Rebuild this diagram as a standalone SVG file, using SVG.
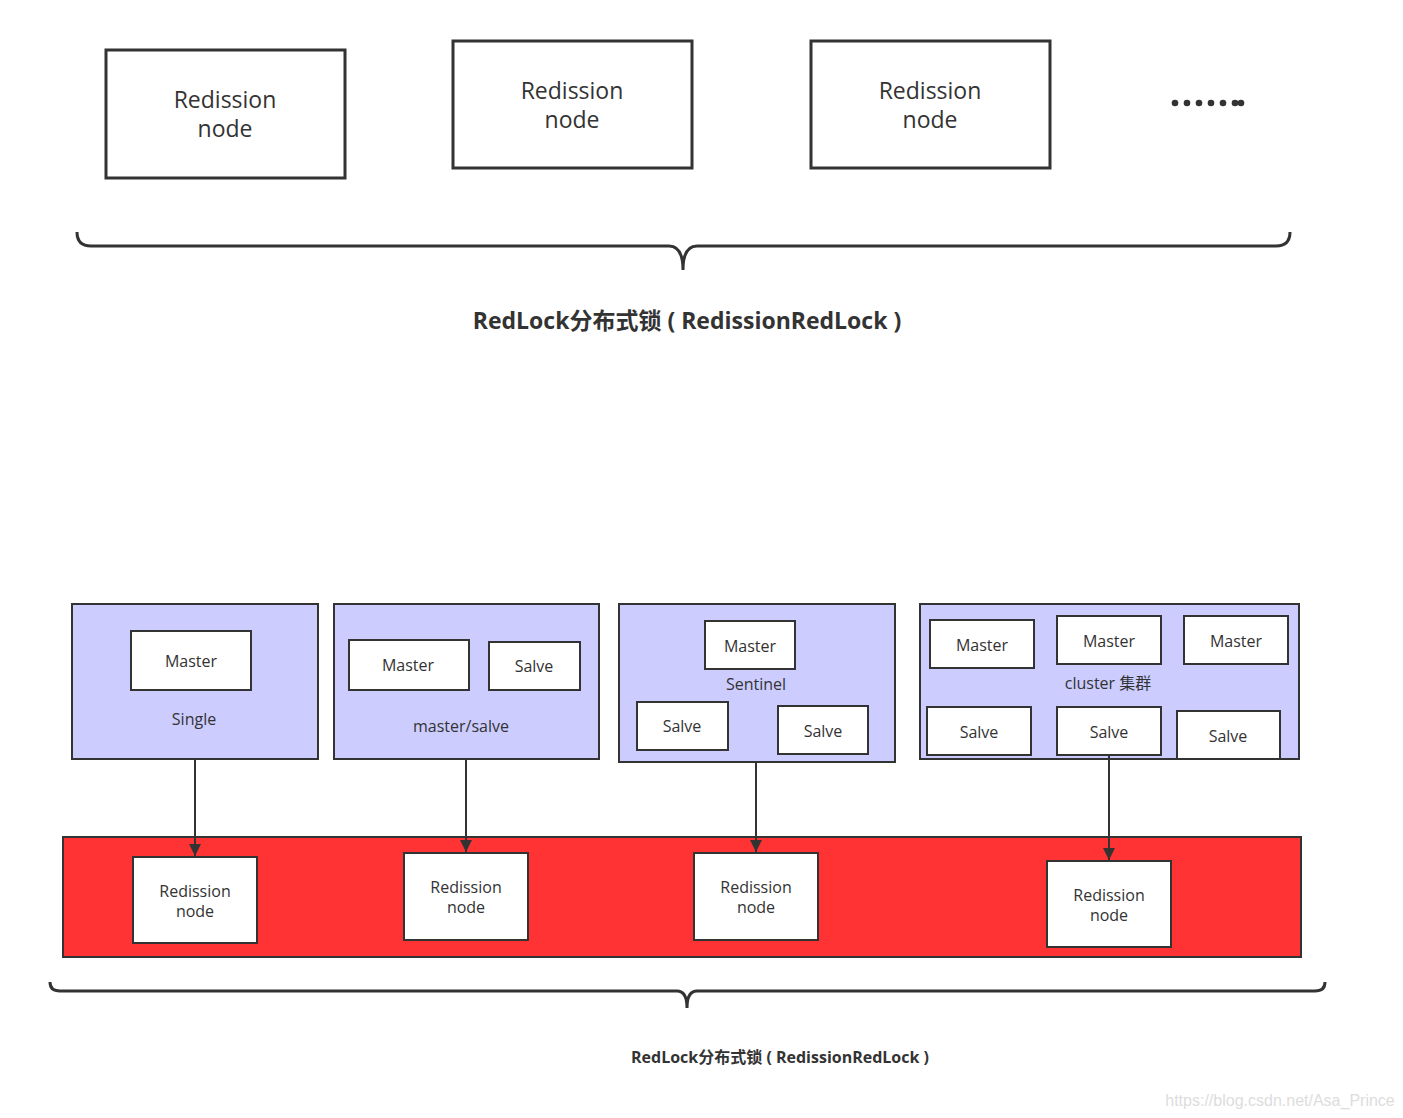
<svg xmlns="http://www.w3.org/2000/svg" width="1403" height="1118" viewBox="0 0 1403 1118">
<style>
text{font-family:"Open Sans","Noto Sans","Noto Sans CJK SC",sans-serif;fill:#333;text-anchor:middle}
.big{fill:#fff;stroke:#333;stroke-width:3}
.big-t{font-size:23px}
.panel{fill:#ccccff;stroke:#333;stroke-width:2}
.box{fill:#fff;stroke:#333;stroke-width:2}
.s{font-size:16px}
.rn{font-size:16px}
.conn line{stroke:#333;stroke-width:2}
.brace{fill:none;stroke:#333;stroke-width:3}
.title{font-weight:bold}
</style>
<defs><marker id="ah" markerWidth="10" markerHeight="12" refX="5" refY="12" orient="auto" markerUnits="userSpaceOnUse" viewBox="0 0 10 12"><path d="M0,0 L10,0 L5,12 Z" fill="#333" transform="rotate(-90 5 6)"/></marker>
<marker id="ar" markerWidth="12" markerHeight="14" refX="12" refY="6" orient="auto" markerUnits="userSpaceOnUse"><path d="M0,0 L12,6 L0,12 Z" fill="#333"/></marker></defs>
<rect width="1403" height="1118" fill="#fff"/>
<g id="top1"><rect class="big" x="106" y="50" width="239" height="128"/><text class="big-t" x="225" y="108">Redission</text><text class="big-t" x="225" y="137">node</text></g>
<g id="top2"><rect class="big" x="453" y="41" width="239" height="127"/><text class="big-t" x="572" y="99">Redission</text><text class="big-t" x="572" y="128">node</text></g>
<g id="top3"><rect class="big" x="811" y="41" width="239" height="127"/><text class="big-t" x="930" y="99">Redission</text><text class="big-t" x="930" y="128">node</text></g>
<g id="dots" fill="#333"><circle cx="1175" cy="103" r="3.3"/><circle cx="1187" cy="103" r="3.3"/><circle cx="1199" cy="103" r="3.3"/><circle cx="1211" cy="103" r="3.3"/><circle cx="1223" cy="103" r="3.3"/><circle cx="1235" cy="103" r="3.3"/><circle cx="1241" cy="103" r="3.3"/></g>
<path class="brace" d="M77,232 Q77,246 91,246 L669,246 Q683,246 683,270 Q683,246 697,246 L1276,246 Q1290,246 1290,232"/>
<text class="title" x="687" y="329" font-size="23">RedLock分布式锁 ( RedissionRedLock )</text>

<g id="single"><rect class="panel" x="72" y="604" width="246" height="155"/><rect class="box" x="131" y="631" width="120" height="59"/><text class="s" x="191" y="667">Master</text><text class="s" x="194" y="725">Single</text></g>
<g id="ms"><rect class="panel" x="334" y="604" width="265" height="155"/><rect class="box" x="349" y="640" width="120" height="50"/><text class="s" x="408" y="671">Master</text><rect class="box" x="489" y="642" width="91" height="48"/><text class="s" x="534" y="672">Salve</text><text class="s" x="461" y="732">master/salve</text></g>
<g id="sentinel"><rect class="panel" x="619" y="604" width="276" height="158"/><rect class="box" x="705" y="621" width="90" height="48"/><text class="s" x="750" y="652">Master</text><text class="s" x="756" y="690">Sentinel</text><rect class="box" x="637" y="702" width="91" height="48"/><text class="s" x="682" y="732">Salve</text><rect class="box" x="778" y="706" width="90" height="48"/><text class="s" x="823" y="737">Salve</text></g>
<g id="cluster"><rect class="panel" x="920" y="604" width="379" height="155"/><rect class="box" x="930" y="620" width="104" height="48"/><text class="s" x="982" y="651">Master</text><rect class="box" x="1057" y="616" width="104" height="48"/><text class="s" x="1109" y="647">Master</text><rect class="box" x="1184" y="616" width="104" height="48"/><text class="s" x="1236" y="647">Master</text><text class="s" x="1108" y="689">cluster 集群</text><rect class="box" x="927" y="707" width="104" height="48"/><text class="s" x="979" y="738">Salve</text><rect class="box" x="1057" y="707" width="104" height="48"/><text class="s" x="1109" y="738">Salve</text><rect class="box" x="1177" y="711" width="103" height="48"/><text class="s" x="1228" y="742">Salve</text></g>

<rect id="redbar" x="63" y="837" width="1238" height="120" fill="#ff3333" stroke="#333" stroke-width="2"/>
<g id="rn1"><rect class="box" x="133" y="857" width="124" height="86"/><text class="rn" x="195" y="897">Redission</text><text class="rn" x="195" y="917">node</text></g>
<g id="rn2"><rect class="box" x="404" y="853" width="124" height="87"/><text class="rn" x="466" y="893">Redission</text><text class="rn" x="466" y="913">node</text></g>
<g id="rn3"><rect class="box" x="694" y="853" width="124" height="87"/><text class="rn" x="756" y="893">Redission</text><text class="rn" x="756" y="913">node</text></g>
<g id="rn4"><rect class="box" x="1047" y="861" width="124" height="86"/><text class="rn" x="1109" y="901">Redission</text><text class="rn" x="1109" y="921">node</text></g>

<g class="conn">
<line x1="195" y1="759" x2="195" y2="856" marker-end="url(#ar)"/>
<line x1="466" y1="759" x2="466" y2="852" marker-end="url(#ar)"/>
<line x1="756" y1="762" x2="756" y2="852" marker-end="url(#ar)"/>
<line x1="1109" y1="755" x2="1109" y2="860" marker-end="url(#ar)"/>
</g>
<path class="brace" stroke-width="2" d="M50,982 Q50,991 60,991 L677,991 Q687,991 687,1008 Q687,991 697,991 L1315,991 Q1325,991 1325,982"/>
<text class="title" x="780" y="1063" font-size="16">RedLock分布式锁 ( RedissionRedLock )</text>
<text x="1280" y="1106" font-size="16" style="fill:#ddd;font-family:'Liberation Sans',sans-serif">https://blog.csdn.net/Asa_Prince</text>
</svg>
